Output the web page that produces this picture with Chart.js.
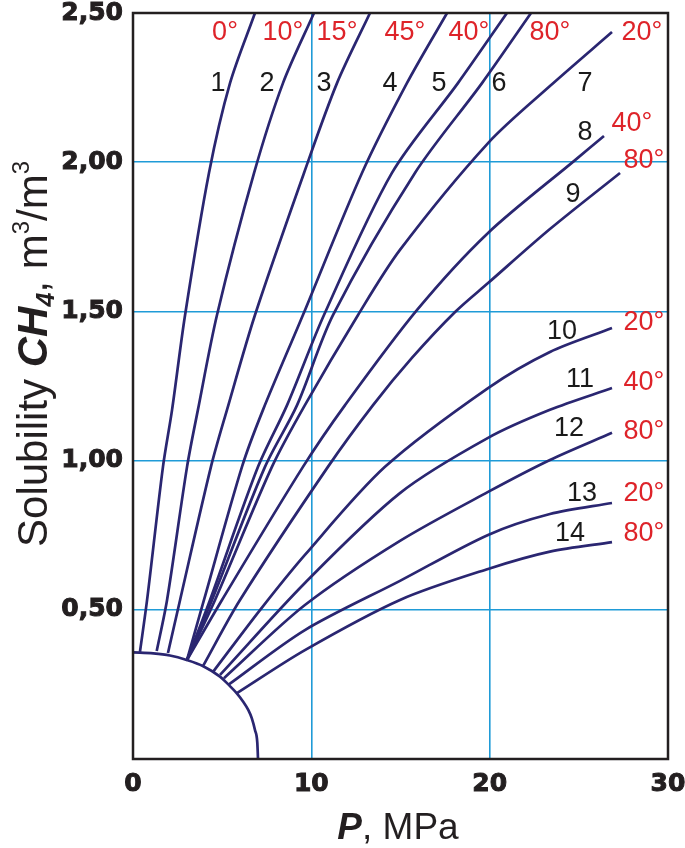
<!DOCTYPE html>
<html><head><meta charset="utf-8">
<script src="https://cdn.jsdelivr.net/npm/chart.js@4"></script>
<style>html,body{margin:0;padding:0;background:#fff}canvas{display:block}</style>
</head><body>
<canvas id="c" width="685" height="848"></canvas>
<script>
// ---- data (x: P, MPa ; y: solubility CH4, m3/m3) ----
const arc = [[0,0.357],[1.14,0.354],[2.07,0.347],[3.01,0.332],[3.94,0.311],[4.88,0.276],[5.34,0.250],[5.81,0.221],[6.17,0.193],[6.47,0.164],[6.66,0.137],[6.84,0.097],[6.97,0.055],[7.01,0]];
const c1 = [[0.39,0.359],[0.79,0.533],[1.68,0.979],[2.19,1.170],[2.92,1.488],[4.26,1.964],[5.44,2.265],[6.84,2.5]];
const c2 = [[1.33,0.362],[1.91,0.533],[3.03,0.979],[3.64,1.170],[4.71,1.488],[6.79,1.964],[8.41,2.265],[10.15,2.5]];
const c3 = [[1.96,0.355],[2.64,0.533],[4.37,0.979],[5.27,1.170],[6.84,1.488],[9.59,1.964],[11.44,2.265],[13.29,2.5]];
const c4 = [[3.03,0.332],[3.98,0.533],[6.11,0.979],[7.29,1.170],[9.53,1.488],[12.84,1.964],[15.36,2.265],[17.61,2.5]];
const c5 = [[3.03,0.332],[4.32,0.533],[7.01,0.979],[8.64,1.186],[10.71,1.488],[14.52,1.964],[18.22,2.265],[20.97,2.5]];
const c6 = [[3.03,0.332],[4.43,0.533],[7.40,0.979],[9.20,1.186],[11.22,1.488],[15.81,1.964],[19.57,2.265],[22.32,2.5]];
const c7 = [[3.03,0.332],[4.60,0.533],[7.79,0.979],[9.64,1.186],[12.62,1.488],[14.97,1.706],[19.91,2.064],[23.38,2.255],[26.86,2.436]];
const c8 = [[3.03,0.332],[4.99,0.533],[9.53,0.979],[11.89,1.186],[15.93,1.505],[19.91,1.763],[24.79,2.007],[26.41,2.088]];
const c9 = [[3.93,0.312],[6.00,0.533],[10.93,0.979],[13.46,1.186],[15.64,1.344],[18.06,1.498],[19.91,1.595],[23.38,1.776],[27.31,1.964]];
const c10 = [[4.49,0.292],[7.12,0.499],[9.64,0.684],[14.13,0.979],[19.91,1.243],[23.38,1.364],[26.86,1.444]];
const c11 = [[4.88,0.282],[9.64,0.590],[14.97,0.891],[19.91,1.076],[23.38,1.170],[26.86,1.243]];
const c12 = [[5.10,0.271],[9.64,0.516],[14.97,0.731],[19.91,0.895],[23.38,1.002],[26.86,1.093]];
const c13 = [[5.33,0.248],[9.64,0.432],[14.97,0.597],[19.91,0.751],[23.38,0.821],[26.86,0.858]];
const c14 = [[5.83,0.221],[9.64,0.365],[14.97,0.533],[19.91,0.637],[23.38,0.695],[26.86,0.727]];

const curveNumbers = ['1','2','3','4','5','6','7','8','9','10','11','12','13','14'];
const numberAnchors = [[4.77,2.262],[7.51,2.262],[10.71,2.262],[14.41,2.262],[17.16,2.265],[20.52,2.265],[25.35,2.265],[25.35,2.098],[24.67,1.890],[24.06,1.434],[25.07,1.273],[24.45,1.106],[25.18,0.891],[24.50,0.754]];
const tempLabels = ['0°','10°','15°','45°','40°','80°','20°','40°','80°','20°','40°','80°','20°','80°'];
const tempAnchors = [[5.16,2.433],[8.41,2.433],[11.44,2.433],[15.25,2.433],[18.84,2.433],[23.38,2.433],[28.54,2.433],[27.98,2.128],[28.65,2.004],[28.65,1.464],[28.65,1.260],[28.65,1.096],[28.65,0.888],[28.65,0.757]];

const xTicks = [0,10,20,30];
const yTicks = [0.5,1.0,1.5,2.0,2.5];

// ---- chart ----
const LINE = '#2a2671';
const curves = [c1,c2,c3,c4,c5,c6,c7,c8,c9,c10,c11,c12,c13,c14];
const datasets = [{
  data: arc.map(p => ({x:p[0], y:p[1]})),
  showLine: true, borderColor: LINE, borderWidth: 2.7, pointRadius: 0,
  cubicInterpolationMode: 'monotone', fill: false
}].concat(curves.map(pts => ({
  data: pts.map(p => ({x:p[0], y:p[1]})),
  showLine: true, borderColor: LINE, borderWidth: 2.7, pointRadius: 0,
  tension: 0.3, fill: false
})));

const decor = {
  id: 'decor',
  afterDatasetsDraw(chart) {
    const {ctx, chartArea: a, scales: {x, y}} = chart;
    ctx.save();
    ctx.strokeStyle = '#231f20'; ctx.lineWidth = 2.5;
    ctx.strokeRect(a.left, a.top, a.right - a.left, a.bottom - a.top);
    ctx.textAlign = 'center'; ctx.textBaseline = 'middle';
    ctx.font = '27px "Liberation Sans", Arial, sans-serif';
    ctx.fillStyle = '#1a1a1a';
    curveNumbers.forEach((t, i) => ctx.fillText(t, x.getPixelForValue(numberAnchors[i][0]), y.getPixelForValue(numberAnchors[i][1])));
    ctx.fillStyle = '#de2329';
    tempLabels.forEach((t, i) => ctx.fillText(t, x.getPixelForValue(tempAnchors[i][0]), y.getPixelForValue(tempAnchors[i][1])));
    ctx.restore();

    // axis titles
    const F = '"Liberation Sans", Arial, sans-serif';
    function runs(parts) {
      let w = 0;
      parts.forEach(p => { ctx.font = p.f; p.w = ctx.measureText(p.t).width; w += p.w; });
      return w;
    }
    ctx.save();
    ctx.fillStyle = '#231f20'; ctx.textBaseline = 'alphabetic'; ctx.textAlign = 'left';
    const xp = [
      {t:'P', f:'italic bold 37px ' + F, dy:0},
      {t:', MPa', f:'37px ' + F, dy:0}
    ];
    let w = runs(xp);
    let cx = 398 - w / 2;
    xp.forEach(p => { ctx.font = p.f; ctx.fillText(p.t, cx, 839 + p.dy); cx += p.w; });

    const yp = [
      {t:'Solubility ', f:'42px ' + F, dy:0},
      {t:'CH', f:'italic bold 42px ' + F, dy:0},
      {t:'4', f:'italic bold 25px ' + F, dy:7},
      {t:', m', f:'42px ' + F, dy:0},
      {t:'3', f:'24px ' + F, dy:-18},
      {t:'/m', f:'42px ' + F, dy:0},
      {t:'3', f:'24px ' + F, dy:-18}
    ];
    w = runs(yp);
    ctx.translate(47, 354);
    ctx.rotate(-Math.PI / 2);
    cx = -w / 2;
    yp.forEach(p => { ctx.font = p.f; ctx.fillText(p.t, cx, p.dy); cx += p.w; });
    ctx.restore();
  }
};

const TICKFONT = { family: '"DejaVu Sans", sans-serif', weight: 'bold', size: 25 };
const tickBase = { color: '#231f20', font: TICKFONT, textStrokeColor: '#231f20', textStrokeWidth: 1, autoSkip: false };
new Chart(document.getElementById('c'), {
  type: 'scatter',
  data: { datasets },
  options: {
    responsive: false, animation: false, devicePixelRatio: 1,
    layout: { padding: { left: 0, right: 17, top: 13, bottom: 0 } },
    plugins: { legend: { display: false }, tooltip: { enabled: false } },
    scales: {
      x: {
        type: 'linear', min: 0, max: 30,
        afterBuildTicks: s => { s.ticks = xTicks.map(v => ({value: v})); },
        ticks: Object.assign({}, tickBase, { padding: 10, maxRotation: 0, callback: v => String(v) }),
        grid: { color: '#1f9bd7', lineWidth: 1.6, drawTicks: false },
        border: { display: false },
        afterFit: s => { s.height = 89; s.paddingLeft = 0; s.paddingRight = 0; }
      },
      y: {
        type: 'linear', min: 0, max: 2.5,
        afterBuildTicks: s => { s.ticks = [0].concat(yTicks).map(v => ({value: v})); },
        ticks: Object.assign({}, tickBase, { padding: 10, callback: v => v === 0 ? '' : v.toFixed(2).replace('.', ',') }),
        grid: { color: '#1f9bd7', lineWidth: 1.6, drawTicks: false },
        border: { display: false },
        afterFit: s => { s.width = 133; s.paddingTop = 0; s.paddingBottom = 0; }
      }
    }
  },
  plugins: [decor]
});
</script>
</body></html>
